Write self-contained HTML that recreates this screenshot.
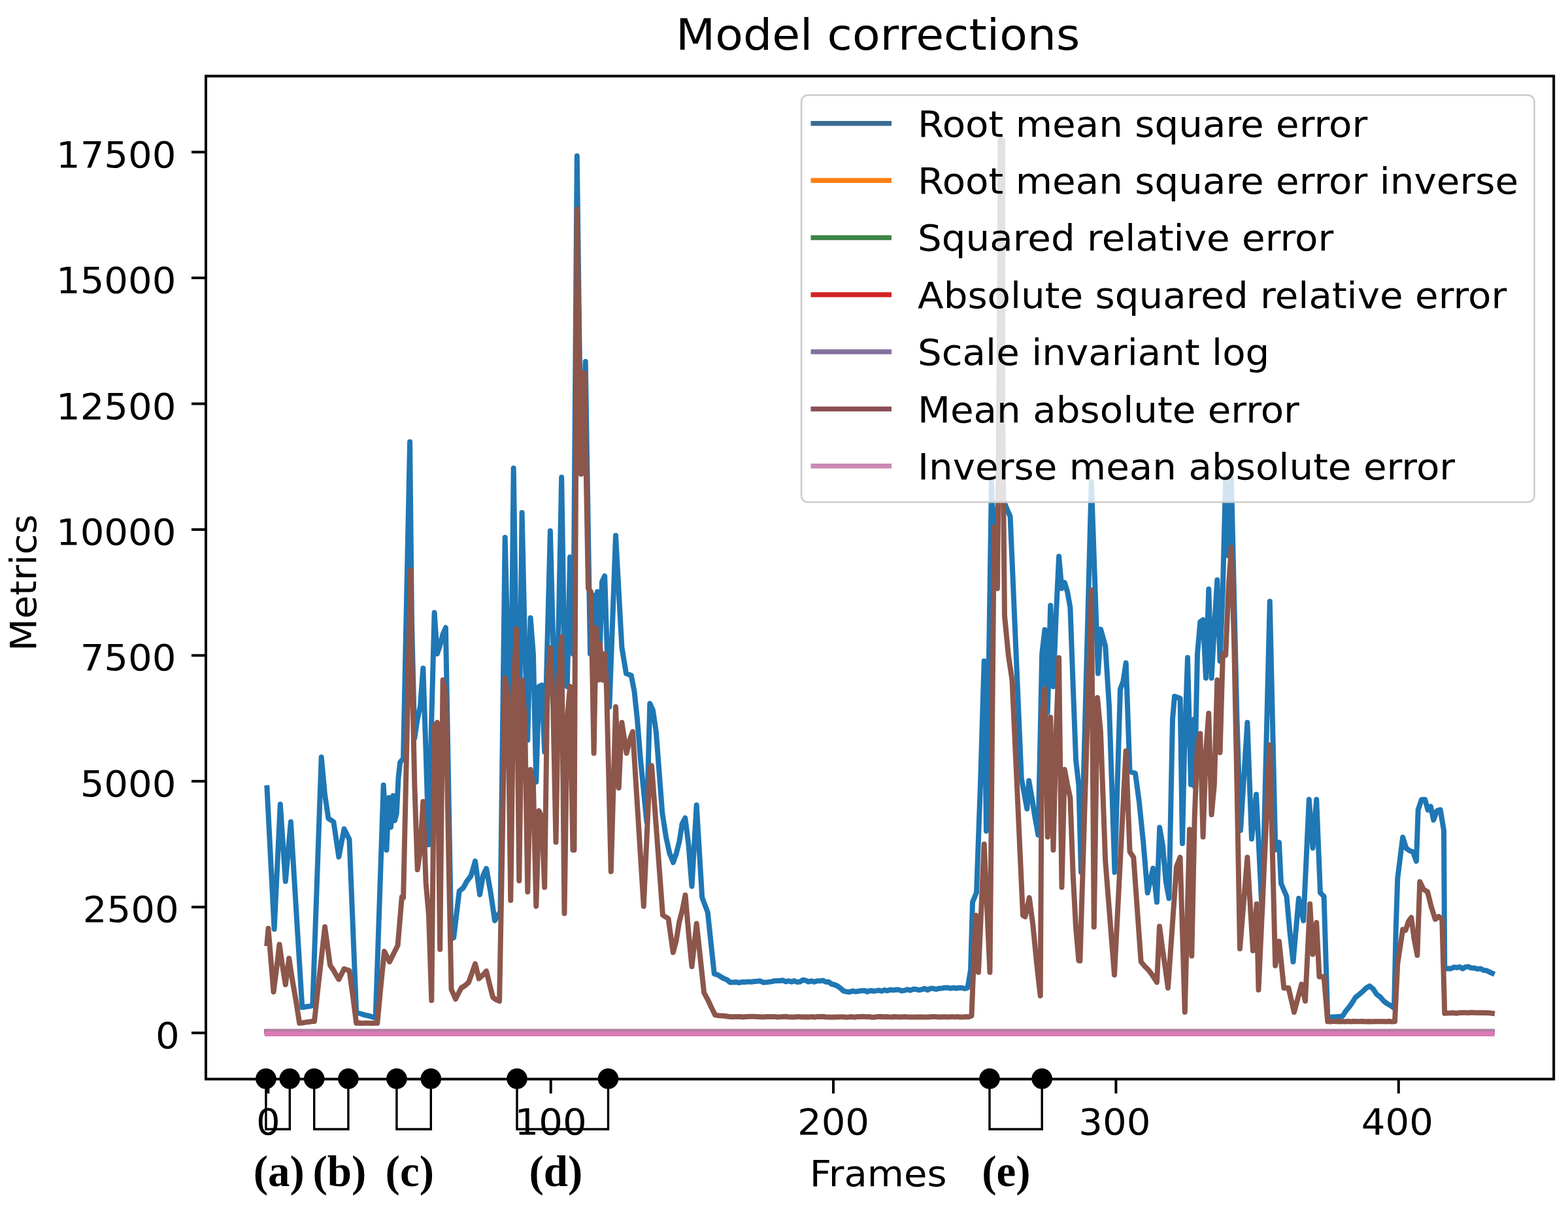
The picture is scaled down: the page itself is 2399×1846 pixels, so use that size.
<!DOCTYPE html>
<html><head><meta charset="utf-8"><title>Model corrections</title>
<style>
html,body{margin:0;padding:0;background:#fff;overflow:hidden;}
svg{display:block;}
.tk{font-family:"DejaVu Sans","Liberation Sans",sans-serif;font-size:55.5px;fill:#000;}
.tt{font-family:"DejaVu Sans","Liberation Sans",sans-serif;font-size:66.5px;fill:#000;}
.ab{font-family:"Liberation Serif","Times New Roman",serif;font-weight:bold;font-size:67px;fill:#000;}
</style></head><body>
<svg width="2399" height="1846" viewBox="0 0 2399 1846">
<rect x="0" y="0" width="2399" height="1846" fill="#ffffff"/>
<g clip-path="url(#clip)">
<defs><clipPath id="clip"><rect x="315.0" y="116.4" width="2062.2" height="1534.0"/></clipPath></defs>
<polyline points="408.5,1205.0 419.6,1421.0 428.8,1230.0 436.8,1348.0 444.9,1257.0 462.3,1540.7 467.6,1539.7 473.0,1539.0 478.3,1538.0 491.7,1158.0 497.0,1215.0 502.4,1251.7 510.4,1257.0 518.4,1310.6 526.5,1267.7 534.5,1283.8 545.2,1548.7 550.1,1550.0 555.0,1551.4 559.9,1552.8 564.8,1553.7 569.7,1555.4 574.6,1556.7 586.7,1200.8 589.5,1250.0 591.4,1300.0 595.0,1220.0 598.0,1265.0 601.4,1216.9 604.0,1255.0 606.8,1243.7 609.5,1190.0 612.1,1166.0 617.0,1160.0 627.1,675.7 630.0,950.0 634.3,1129.0 638.7,1100.0 643.0,1080.0 647.3,1022.0 651.6,1150.0 656.0,1292.0 660.3,1100.0 664.6,937.0 668.9,1000.0 673.2,987.0 677.6,970.0 681.9,960.0 686.2,1200.0 690.5,1436.0 694.2,1434.0 702.7,1362.6 708.5,1358.2 714.2,1348.0 720.6,1339.5 727.0,1317.0 734.1,1368.3 739.1,1338.9 744.1,1328.3 750.5,1364.0 757.0,1408.0 765.5,1394.0 772.7,822.0 777.0,1000.0 781.3,1130.0 785.7,716.0 790.0,1000.0 794.3,1150.0 798.6,784.0 803.0,980.0 807.3,1132.0 811.6,945.0 815.9,1000.0 820.3,1196.0 824.6,1050.0 828.9,1048.0 833.2,1150.0 837.5,980.0 841.9,812.0 846.2,980.0 850.5,1100.0 854.8,950.0 859.2,730.0 863.5,1000.0 867.8,1050.0 872.1,852.0 876.5,1000.0 877.0,1000.0 882.8,238.5 889.0,725.0 895.7,553.0 903.0,1000.0 907.0,910.0 911.0,1000.0 914.0,905.0 918.0,990.0 921.0,890.0 925.2,881.0 929.0,1000.0 932.4,1081.0 942.0,819.0 951.4,990.0 958.0,1030.0 965.7,1033.0 970.4,1056.7 975.0,1100.0 979.8,1159.8 984.7,1209.3 989.5,1257.0 994.3,1076.0 999.0,1086.5 1003.8,1119.0 1013.3,1243.0 1018.9,1279.9 1024.4,1304.8 1030.0,1319.0 1034.6,1305.7 1039.2,1287.8 1043.7,1259.8 1048.3,1251.0 1053.4,1291.6 1058.5,1355.5 1065.7,1231.3 1074.2,1372.6 1082.8,1395.4 1087.8,1442.9 1092.8,1489.6 1097.6,1490.6 1102.5,1493.7 1107.3,1496.5 1112.2,1498.4 1117.0,1502.5 1121.7,1502.2 1126.3,1501.9 1131.0,1503.0 1135.6,1501.8 1140.2,1502.0 1144.9,1501.4 1149.5,1501.7 1154.2,1501.0 1158.6,1500.8 1162.9,1500.2 1167.3,1502.5 1171.6,1502.4 1176.0,1501.9 1180.3,1501.4 1184.7,1500.2 1189.0,1499.9 1193.4,1500.0 1197.7,1499.3 1202.1,1501.4 1206.5,1500.2 1210.8,1501.6 1215.2,1500.1 1219.5,1501.9 1223.9,1501.5 1228.2,1498.8 1232.6,1499.4 1236.9,1501.6 1241.3,1500.2 1245.6,1501.8 1250.0,1500.2 1254.5,1500.2 1258.9,1499.6 1263.3,1501.7 1267.8,1501.7 1272.3,1505.0 1276.7,1506.0 1281.2,1508.0 1285.7,1511.2 1290.1,1515.3 1294.6,1516.6 1299.6,1517.3 1304.5,1515.6 1309.5,1516.6 1313.9,1515.8 1318.3,1515.3 1322.7,1515.0 1327.0,1516.7 1331.4,1515.0 1335.8,1515.8 1340.2,1515.4 1344.6,1514.6 1349.0,1515.8 1353.3,1514.1 1357.7,1515.3 1362.1,1513.8 1366.5,1514.4 1370.9,1513.7 1375.3,1513.7 1379.7,1515.4 1384.0,1514.8 1388.4,1513.3 1392.8,1514.7 1397.2,1512.8 1401.6,1513.1 1406.0,1514.2 1410.3,1513.4 1414.7,1511.8 1419.1,1514.1 1423.5,1511.8 1427.9,1511.8 1432.3,1513.0 1436.7,1511.7 1441.0,1511.4 1445.4,1510.7 1449.8,1510.6 1454.2,1511.7 1458.6,1510.7 1463.0,1511.5 1467.3,1510.7 1471.7,1510.8 1476.1,1512.0 1480.5,1510.6 1485.0,1483.9 1488.0,1379.7 1494.0,1364.9 1500.0,1200.0 1505.7,1011.0 1509.0,1271.0 1517.0,737.0 1521.0,850.0 1527.5,765.0 1531.0,212.0 1535.0,765.0 1540.0,777.0 1545.6,790.0 1562.8,1191.0 1571.3,1237.0 1574.2,1194.0 1578.9,1221.3 1583.7,1251.1 1588.4,1277.0 1594.2,1000.0 1598.5,963.0 1602.8,1090.0 1607.2,926.0 1611.5,1050.0 1615.8,940.0 1620.1,851.0 1624.5,900.0 1628.8,891.0 1633.1,905.0 1637.4,929.0 1641.8,1050.0 1646.1,1163.0 1650.4,1200.0 1654.0,1334.0 1669.8,737.0 1680.0,1030.0 1684.0,962.4 1691.2,988.0 1697.0,1080.0 1705.5,1334.0 1714.0,1054.0 1718.3,1042.7 1722.7,1013.9 1728.6,1180.0 1737.0,1182.8 1742.8,1225.6 1749.2,1287.9 1755.7,1365.5 1764.2,1328.0 1770.0,1379.7 1774.2,1265.6 1779.0,1293.4 1783.7,1347.7 1788.5,1374.0 1794.0,1100.0 1797.0,1065.0 1805.6,1068.0 1809.0,1290.0 1812.0,1150.0 1817.0,1005.7 1822.0,1200.0 1827.0,1100.0 1827.7,1203.0 1832.0,1000.0 1836.3,951.0 1840.6,948.0 1845.0,1037.0 1849.3,901.0 1853.6,1037.0 1857.9,960.0 1862.3,887.0 1866.6,1011.0 1870.9,900.0 1875.2,730.0 1879.6,850.0 1883.9,730.0 1888.2,917.0 1892.5,1100.0 1898.0,1270.0 1908.4,1105.0 1915.0,1283.0 1922.0,1215.0 1931.0,1397.0 1942.8,919.8 1951.4,1299.8 1957.0,1288.4 1960.0,1351.0 1968.5,1371.0 1973.5,1426.1 1978.5,1471.0 1987.0,1374.0 1994.2,1408.0 2002.8,1222.7 2008.5,1297.0 2014.2,1222.7 2020.0,1365.4 2025.6,1371.0 2031.3,1556.6 2035.9,1555.8 2040.5,1555.2 2045.0,1555.2 2049.6,1554.8 2054.2,1553.8 2059.1,1546.2 2064.1,1540.2 2069.1,1533.1 2074.0,1525.2 2079.4,1521.1 2084.8,1516.4 2090.1,1511.2 2095.5,1508.0 2100.9,1512.5 2106.2,1520.6 2111.6,1524.7 2117.0,1531.0 2122.3,1535.0 2127.7,1537.9 2133.0,1542.0 2135.7,1421.6 2138.3,1343.0 2146.2,1280.4 2151.4,1297.3 2156.6,1301.0 2161.8,1302.9 2167.0,1317.0 2169.7,1238.5 2174.9,1222.9 2180.2,1222.8 2184.6,1238.6 2188.9,1233.4 2193.3,1254.2 2198.5,1239.8 2203.7,1238.5 2209.0,1270.0 2210.3,1481.8 2215.1,1481.2 2219.9,1481.5 2224.7,1479.2 2229.0,1479.9 2233.4,1478.8 2237.8,1481.5 2242.1,1478.9 2246.5,1478.4 2250.8,1480.5 2255.6,1480.5 2260.4,1482.0 2265.2,1481.4 2270.0,1484.0 2274.3,1484.3 2278.7,1486.5 2283.0,1488.5" fill="none" stroke="#1f77b4" stroke-width="8.0" stroke-linejoin="round" stroke-linecap="square" opacity="1.0"/>
<line x1="408.5" y1="1578.0" x2="2283.0" y2="1578.0" stroke="#ff7f0e" stroke-width="8.0" stroke-linecap="square"/>
<line x1="408.5" y1="1578.0" x2="2283.0" y2="1578.0" stroke="#2ca02c" stroke-width="8.0" stroke-linecap="square"/>
<line x1="408.5" y1="1578.0" x2="2283.0" y2="1578.0" stroke="#d62728" stroke-width="8.0" stroke-linecap="square"/>
<line x1="408.5" y1="1578.0" x2="2283.0" y2="1578.0" stroke="#9467bd" stroke-width="8.0" stroke-linecap="square"/>
<line x1="408.5" y1="1576" x2="2283.0" y2="1576" stroke="#b27ea3" stroke-width="5" stroke-linecap="square"/>
<polyline points="408.5,1443.0 410.5,1420.0 418.5,1517.0 423.0,1482.4 427.5,1444.4 432.1,1477.0 436.8,1505.9 442.2,1465.8 447.5,1500.1 452.9,1531.0 458.2,1564.8 462.8,1564.3 467.3,1563.6 471.9,1563.1 476.4,1562.3 481.0,1562.0 486.3,1513.1 491.7,1465.5 497.0,1417.6 505.1,1476.5 509.5,1482.6 514.0,1490.6 518.4,1497.9 526.5,1481.8 534.5,1484.5 539.9,1523.6 545.2,1564.8 549.8,1564.5 554.4,1564.9 559.0,1564.8 563.5,1564.8 568.1,1564.9 572.7,1564.7 577.3,1564.8 582.6,1508.7 588.0,1455.0 596.0,1471.0 600.0,1463.0 608.6,1445.8 614.8,1372.0 617.1,1373.0 628.2,872.0 630.0,1000.0 634.3,1200.0 638.7,1330.0 643.0,1300.0 647.3,1226.0 651.6,1350.0 656.0,1400.0 660.3,1530.0 664.6,1110.0 668.9,1105.0 673.2,1452.0 677.6,1040.0 681.9,1060.0 686.2,1300.0 690.5,1513.0 697.0,1528.0 705.6,1511.0 711.3,1507.5 717.0,1502.4 722.0,1488.5 727.0,1474.0 732.7,1496.7 738.4,1491.6 744.1,1485.3 749.1,1505.7 754.1,1525.3 759.1,1529.1 764.1,1531.0 768.4,1300.0 772.7,1037.0 777.0,1060.0 781.3,1377.0 785.7,1050.0 790.0,962.0 794.3,1347.0 798.6,1040.0 803.0,1100.0 807.3,1364.0 811.6,1177.0 815.9,1200.0 820.3,1386.0 824.6,1240.0 828.9,1250.0 833.2,1357.0 837.5,1050.0 841.9,991.0 846.2,1080.0 850.5,1288.0 854.8,1040.0 859.2,974.0 863.5,1397.0 867.8,1100.0 872.1,1050.0 876.5,1300.0 878.5,1300.0 882.8,320.0 889.0,725.0 894.0,570.0 900.0,900.0 904.0,905.0 908.6,1152.0 912.0,960.0 915.0,1040.0 918.0,985.0 922.0,1040.0 925.0,1000.0 928.0,1052.0 934.8,1333.0 942.0,1081.0 946.7,1205.0 951.4,1105.0 958.6,1152.0 963.3,1132.2 968.0,1119.0 984.8,1386.0 994.3,1176.0 997.0,1171.0 1014.0,1399.5 1022.6,1405.0 1029.8,1456.6 1034.5,1439.2 1039.2,1410.2 1043.8,1392.5 1048.5,1369.0 1053.5,1426.6 1058.5,1478.2 1065.7,1412.6 1071.4,1464.5 1077.1,1518.2 1082.8,1528.8 1088.5,1541.0 1094.2,1552.4 1099.4,1553.2 1104.5,1553.6 1109.7,1554.0 1114.8,1554.8 1120.0,1555.2 1124.4,1554.9 1128.7,1554.9 1133.1,1555.0 1137.4,1555.5 1141.8,1554.9 1146.2,1554.8 1150.5,1554.8 1154.9,1554.7 1159.2,1555.0 1163.6,1555.3 1167.9,1555.5 1172.3,1555.0 1176.7,1555.1 1181.0,1555.0 1185.4,1555.0 1189.7,1555.5 1194.1,1555.2 1198.5,1555.0 1202.8,1554.8 1207.2,1555.5 1211.5,1555.4 1215.9,1555.5 1220.3,1554.9 1224.6,1555.2 1229.0,1555.6 1233.3,1555.3 1237.7,1555.6 1242.1,1554.9 1246.4,1555.7 1250.8,1554.8 1255.1,1555.1 1259.5,1554.7 1263.8,1555.5 1268.2,1555.4 1272.6,1555.7 1276.9,1555.5 1281.3,1555.6 1285.6,1555.2 1290.0,1555.2 1294.4,1555.7 1298.7,1555.5 1303.1,1555.1 1307.5,1555.7 1311.8,1555.1 1316.2,1554.9 1320.5,1554.8 1324.9,1555.2 1329.3,1554.9 1333.6,1555.7 1338.0,1555.7 1342.4,1554.9 1346.7,1554.8 1351.1,1555.3 1355.5,1554.9 1359.8,1555.3 1364.2,1555.5 1368.5,1555.0 1372.9,1555.2 1377.3,1555.6 1381.6,1555.2 1386.0,1555.1 1390.4,1555.6 1394.7,1555.6 1399.1,1555.6 1403.5,1555.4 1407.8,1555.2 1412.2,1555.5 1416.5,1555.6 1420.9,1555.4 1425.3,1555.0 1429.6,1555.1 1434.0,1555.2 1438.4,1555.5 1442.7,1555.3 1447.1,1555.3 1451.5,1555.6 1455.8,1554.9 1460.2,1555.4 1464.5,1555.1 1468.9,1555.4 1473.3,1555.6 1477.6,1555.0 1482.0,1555.3 1486.5,1553.8 1489.0,1490.0 1493.0,1400.0 1497.0,1487.0 1505.7,1291.0 1514.5,1487.0 1521.0,806.0 1526.0,900.0 1531.0,350.0 1537.0,942.0 1542.8,1001.8 1548.5,1040.0 1554.2,1162.7 1565.0,1400.0 1568.5,1402.0 1574.8,1373.0 1580.4,1415.1 1586.1,1473.3 1591.7,1523.0 1594.2,1100.0 1598.5,1054.0 1602.8,1280.0 1607.2,1097.0 1611.5,1300.0 1615.8,1120.0 1620.1,1006.0 1624.5,1357.0 1628.8,1177.0 1633.1,1200.0 1637.4,1220.0 1641.8,1340.0 1646.1,1420.0 1650.4,1469.0 1652.4,1469.5 1669.8,902.5 1673.8,1417.8 1679.0,1067.0 1684.0,1120.0 1691.2,1316.8 1705.0,1491.0 1722.6,1148.4 1728.6,1302.7 1734.3,1311.2 1745.7,1471.0 1751.4,1477.8 1757.1,1483.3 1762.8,1491.0 1770.0,1502.4 1774.0,1416.8 1778.3,1449.2 1782.7,1479.5 1787.0,1511.0 1800.0,1325.5 1805.6,1311.2 1812.8,1548.0 1820.0,1268.4 1823.3,1462.0 1827.7,1250.0 1832.0,1140.0 1836.3,1122.0 1840.6,1280.0 1845.0,1150.0 1849.3,1091.0 1853.6,1246.0 1857.9,1200.0 1862.3,1040.0 1866.6,1151.0 1870.9,1000.0 1875.2,1002.0 1879.6,900.0 1883.9,837.0 1888.2,985.0 1892.5,1200.0 1897.0,1451.0 1908.4,1311.2 1917.0,1454.0 1922.6,1382.6 1925.5,1513.9 1942.7,1139.6 1951.2,1476.8 1957.0,1439.7 1964.3,1511.0 1971.4,1511.0 1980.0,1548.0 1985.7,1526.5 1991.4,1505.3 1997.0,1531.0 2004.2,1382.5 2008.5,1459.6 2014.2,1411.0 2018.5,1493.8 2025.6,1493.8 2031.3,1562.3 2035.8,1562.5 2040.2,1561.9 2044.7,1562.2 2049.2,1562.5 2053.6,1562.0 2058.1,1562.6 2062.6,1562.1 2067.0,1562.4 2071.5,1562.1 2076.0,1562.3 2080.4,1562.2 2084.9,1562.0 2089.3,1562.4 2093.8,1562.3 2098.3,1562.4 2102.7,1562.3 2107.2,1562.3 2111.7,1562.3 2116.1,1562.2 2120.6,1562.6 2125.1,1562.0 2129.5,1562.6 2134.0,1562.3 2138.3,1474.0 2146.2,1421.6 2150.5,1422.7 2154.9,1409.4 2159.2,1403.3 2163.8,1437.1 2168.4,1461.0 2172.3,1348.4 2178.2,1360.4 2184.1,1364.0 2190.0,1387.5 2195.9,1406.0 2201.1,1401.6 2206.3,1406.0 2210.3,1549.8 2214.8,1549.4 2219.3,1549.3 2223.8,1549.1 2228.3,1549.8 2232.8,1548.9 2237.3,1548.8 2241.8,1548.7 2246.3,1549.0 2250.8,1548.5 2255.4,1548.7 2260.0,1548.9 2264.6,1548.8 2269.2,1549.0 2273.8,1548.9 2278.4,1549.3 2283.0,1549.8" fill="none" stroke="#8c564b" stroke-width="8.0" stroke-linejoin="round" stroke-linecap="square" opacity="1.0"/>
<rect x="1526.3" y="211" width="11.7" height="557" rx="4" fill="#70707c"/>
<line x1="408.5" y1="1581.3" x2="2283.0" y2="1581.3" stroke="#d97ab6" stroke-width="7.5" stroke-linecap="square"/>
</g>
<rect x="315.0" y="116.4" width="2062.2" height="1534.0" fill="none" stroke="#000" stroke-width="4.0" stroke-linejoin="miter"/>
<line x1="293.0" y1="1579.7" x2="315.0" y2="1579.7" stroke="#000" stroke-width="4.0"/>
<text transform="translate(274.7,1602.7) scale(1.04,1)" text-anchor="end" class="tk">0</text>
<line x1="293.0" y1="1387.3" x2="315.0" y2="1387.3" stroke="#000" stroke-width="4.0"/>
<text transform="translate(273.7,1410.3) scale(1.04,1)" text-anchor="end" class="tk">2500</text>
<line x1="293.0" y1="1194.8" x2="315.0" y2="1194.8" stroke="#000" stroke-width="4.0"/>
<text transform="translate(269.5,1217.8) scale(1.04,1)" text-anchor="end" class="tk">5000</text>
<line x1="293.0" y1="1002.4" x2="315.0" y2="1002.4" stroke="#000" stroke-width="4.0"/>
<text transform="translate(269.5,1025.4) scale(1.04,1)" text-anchor="end" class="tk">7500</text>
<line x1="293.0" y1="809.9" x2="315.0" y2="809.9" stroke="#000" stroke-width="4.0"/>
<text transform="translate(269.5,832.9) scale(1.04,1)" text-anchor="end" class="tk">10000</text>
<line x1="293.0" y1="617.5" x2="315.0" y2="617.5" stroke="#000" stroke-width="4.0"/>
<text transform="translate(269.5,640.5) scale(1.04,1)" text-anchor="end" class="tk">12500</text>
<line x1="293.0" y1="425.0" x2="315.0" y2="425.0" stroke="#000" stroke-width="4.0"/>
<text transform="translate(269.5,448.0) scale(1.04,1)" text-anchor="end" class="tk">15000</text>
<line x1="293.0" y1="232.6" x2="315.0" y2="232.6" stroke="#000" stroke-width="4.0"/>
<text transform="translate(269.5,255.6) scale(1.04,1)" text-anchor="end" class="tk">17500</text>
<line x1="410.3" y1="1650.4" x2="410.3" y2="1672.4" stroke="#000" stroke-width="4.0"/>
<text transform="translate(410.3,1735.3) scale(1.04,1)" text-anchor="middle" class="tk">0</text>
<line x1="842.7" y1="1650.4" x2="842.7" y2="1672.4" stroke="#000" stroke-width="4.0"/>
<text transform="translate(842.7,1735.3) scale(1.04,1)" text-anchor="middle" class="tk">100</text>
<line x1="1275.0" y1="1650.4" x2="1275.0" y2="1672.4" stroke="#000" stroke-width="4.0"/>
<text transform="translate(1275.0,1735.3) scale(1.04,1)" text-anchor="middle" class="tk">200</text>
<line x1="1707.4" y1="1650.4" x2="1707.4" y2="1672.4" stroke="#000" stroke-width="4.0"/>
<text transform="translate(1705.4,1735.3) scale(1.04,1)" text-anchor="middle" class="tk">300</text>
<line x1="2139.8" y1="1650.4" x2="2139.8" y2="1672.4" stroke="#000" stroke-width="4.0"/>
<text transform="translate(2137.8,1735.3) scale(1.04,1)" text-anchor="middle" class="tk">400</text>
<rect x="1226" y="145.5" width="1121.5" height="622.5" rx="10" ry="10" fill="#ffffff" fill-opacity="0.8" stroke="#cccccc" stroke-width="2.5"/>
<line x1="1240.5" y1="188.7" x2="1364" y2="188.7" stroke="#3a6b93" stroke-width="7.5"/>
<text transform="translate(1404,208.7) scale(1.044,1)" class="tk">Root mean square error</text>
<line x1="1240.5" y1="276.0" x2="1364" y2="276.0" stroke="#fd7f12" stroke-width="7.5"/>
<text transform="translate(1404,296.0) scale(1.044,1)" class="tk">Root mean square error inverse</text>
<line x1="1240.5" y1="363.4" x2="1364" y2="363.4" stroke="#3d8545" stroke-width="7.5"/>
<text transform="translate(1404,383.4) scale(1.044,1)" class="tk">Squared relative error</text>
<line x1="1240.5" y1="450.7" x2="1364" y2="450.7" stroke="#d42424" stroke-width="7.5"/>
<text transform="translate(1404,470.7) scale(1.044,1)" class="tk">Absolute squared relative error</text>
<line x1="1240.5" y1="538.1" x2="1364" y2="538.1" stroke="#85709d" stroke-width="7.5"/>
<text transform="translate(1404,558.1) scale(1.044,1)" class="tk">Scale invariant log</text>
<line x1="1240.5" y1="625.5" x2="1364" y2="625.5" stroke="#8c4e55" stroke-width="7.5"/>
<text transform="translate(1404,645.5) scale(1.044,1)" class="tk">Mean absolute error</text>
<line x1="1240.5" y1="712.8" x2="1364" y2="712.8" stroke="#c98ab4" stroke-width="7.5"/>
<text transform="translate(1404,732.8) scale(1.044,1)" class="tk">Inverse mean absolute error</text>
<text transform="translate(1343.2,76.2) scale(1.049,1)" text-anchor="middle" class="tt">Model corrections</text>
<text transform="translate(1343.6,1814.2) scale(1.04,1)" text-anchor="middle" class="tk">Frames</text>
<text transform="translate(55.0,891.3) rotate(-90) scale(1.04,1)" text-anchor="middle" class="tk">Metrics</text>
<polyline points="406.9,1650 406.9,1727 443.3,1727 443.3,1650" fill="none" stroke="#000" stroke-width="3.4" stroke-linejoin="miter"/>
<polyline points="480.7,1650 480.7,1727 532.9,1727 532.9,1650" fill="none" stroke="#000" stroke-width="3.4" stroke-linejoin="miter"/>
<polyline points="606.9,1650 606.9,1727 659.3,1727 659.3,1650" fill="none" stroke="#000" stroke-width="3.4" stroke-linejoin="miter"/>
<polyline points="791.0,1650 791.0,1727 930.5,1727 930.5,1650" fill="none" stroke="#000" stroke-width="3.4" stroke-linejoin="miter"/>
<polyline points="1514.0,1650 1514.0,1727 1594.2,1727 1594.2,1650" fill="none" stroke="#000" stroke-width="3.4" stroke-linejoin="miter"/>
<circle cx="406.9" cy="1649.8" r="15.8" fill="#000"/>
<circle cx="443.3" cy="1649.8" r="15.8" fill="#000"/>
<circle cx="480.7" cy="1649.8" r="15.8" fill="#000"/>
<circle cx="532.9" cy="1649.8" r="15.8" fill="#000"/>
<circle cx="606.9" cy="1649.8" r="15.8" fill="#000"/>
<circle cx="659.3" cy="1649.8" r="15.8" fill="#000"/>
<circle cx="791.0" cy="1649.8" r="15.8" fill="#000"/>
<circle cx="930.5" cy="1649.8" r="15.8" fill="#000"/>
<circle cx="1514.0" cy="1649.8" r="15.8" fill="#000"/>
<circle cx="1594.2" cy="1649.8" r="15.8" fill="#000"/>
<text x="426.8" y="1813.6" text-anchor="middle" class="ab">(a)</text>
<text x="519.5" y="1813.6" text-anchor="middle" class="ab">(b)</text>
<text x="626.8" y="1813.6" text-anchor="middle" class="ab">(c)</text>
<text x="850.4" y="1813.6" text-anchor="middle" class="ab">(d)</text>
<text x="1539.4" y="1813.6" text-anchor="middle" class="ab">(e)</text>
</svg>
</body></html>
